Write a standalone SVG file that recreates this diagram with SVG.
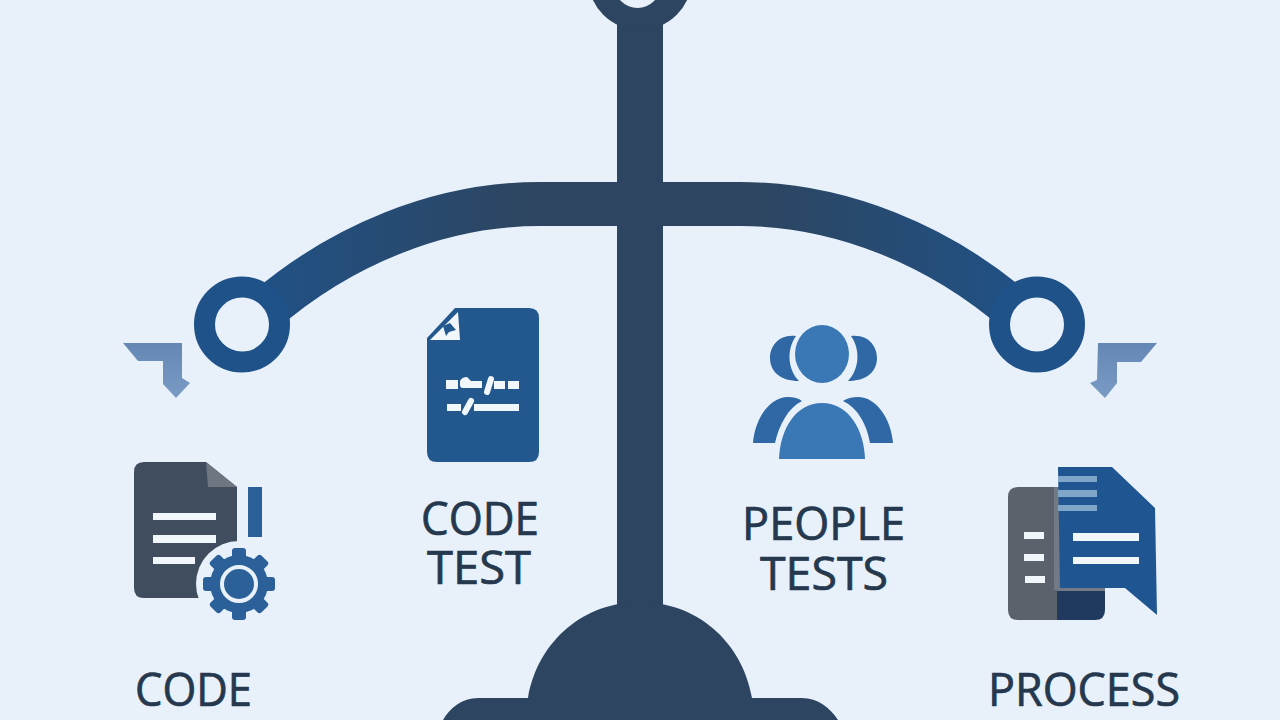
<svg xmlns="http://www.w3.org/2000/svg" width="1280" height="720" viewBox="0 0 1280 720">
<style>
.lbl{font-family:"Open Sans","Liberation Sans",sans-serif;font-size:45px;fill:#25384e;stroke:#25384e;stroke-width:.7;text-anchor:start}
.dark{fill:#2d4560}
.ring{fill:#e8f1fa;stroke:#1f5288;stroke-width:21}
.arrow{fill:url(#arrowGrad)}
.wl{fill:#f1f6fb}
.ll{fill:#7fa5c9}
.handle{fill:none;stroke:#f1f6fb;stroke-width:6;stroke-linecap:round}
</style>
<defs>
<linearGradient id="beamGrad" gradientUnits="userSpaceOnUse" x1="240" y1="0" x2="1040" y2="0">
<stop offset="0" stop-color="#1f5288"/><stop offset="0.36" stop-color="#2d4560"/><stop offset="0.64" stop-color="#2d4560"/><stop offset="1" stop-color="#1f5288"/>
</linearGradient>
<linearGradient id="arrowGrad" x1="0" y1="0" x2="0" y2="1">
<stop offset="0" stop-color="#6587b4"/><stop offset="1" stop-color="#7a9bc4"/>
</linearGradient>
</defs>
<rect width="1280" height="720" fill="#e8f1fa"/>
<g id="connectors">
<path d="M262 313C340 245 440 204 540 204L740 204C840 204 940 245 1018 313" fill="none" stroke="url(#beamGrad)" stroke-width="44"/>
<rect class="dark" x="617" y="0" width="46" height="620"/>
</g>
<g id="pivot">
<circle class="dark" cx="640" cy="-22" r="52"/>
<circle cx="637.5" cy="-15" r="23" fill="#e8f1fa"/>
</g>
<g id="ring-left"><circle class="ring" cx="242" cy="324.5" r="37.5"/></g>
<g id="ring-right"><circle class="ring" cx="1037" cy="324.5" r="37.5"/></g>
<g id="base"><path class="dark" d="M528 698C538 640 585 602 640 602C695 602 742 640 752 698L802 698C818 698 830 708 838 720L443 720C450 708 462 698 478 698Z"/></g>
<g id="arrow-left"><polygon class="arrow" points="123,343 182,343 182,378 190,383 176,398 163,384 163,361 138,361"/></g>
<g id="arrow-right"><polygon class="arrow" points="1098,343 1157,343 1141,362 1117,362 1117,383 1105,398 1090,383 1097,380"/></g>
<g id="node-code">
<path d="M144 462H206L237 487V588Q237 598 227 598H144Q134 598 134 588V472Q134 462 144 462Z" fill="#3f4d5f"/>
<polygon points="206,462 237,487 208,487" fill="#6e7682"/>
<rect class="wl" x="153" y="513" width="63" height="7"/>
<rect class="wl" x="153" y="535" width="63" height="8"/>
<rect class="wl" x="153" y="557" width="42" height="7"/>
<rect x="248" y="487" width="14" height="50" fill="#2b6198"/>
<circle cx="239" cy="584" r="43" fill="#e8f1fa"/>
<g fill="#2b6198">
<circle cx="239" cy="584" r="29"/>
<rect x="232" y="548" width="14" height="72" rx="3"/><rect x="232" y="548" width="14" height="72" rx="3" transform="rotate(45 239 584)"/><rect x="232" y="548" width="14" height="72" rx="3" transform="rotate(90 239 584)"/><rect x="232" y="548" width="14" height="72" rx="3" transform="rotate(135 239 584)"/>
</g>
<circle cx="239" cy="584" r="17" fill="#2b6198" stroke="#e8f1fa" stroke-width="4"/>
<text class="lbl" x="135" y="706" textLength="117" lengthAdjust="spacingAndGlyphs">CODE</text>
</g>
<g id="node-code-test">
<path d="M455 308H529Q539 308 539 318V452Q539 462 529 462H437Q427 462 427 452V338Z" fill="#23588f"/>
<polygon points="458,312 460,340 430,340" fill="#f1f6fb"/>
<path d="M443 326L450 323L456 330L449 332L446 336Z" fill="#23588f"/>
<rect class="wl" x="446" y="380" width="12" height="9"/>
<path d="M460 381Q462 377 467 377L471 381H482V388H463Q460 388 460 385Z" fill="#f1f6fb"/>
<rect class="wl" x="494" y="381" width="11" height="8"/>
<rect class="wl" x="508" y="381" width="11" height="8"/>
<rect class="wl" x="447" y="404" width="14" height="7"/>
<rect class="wl" x="474" y="404" width="45" height="7"/>
<path class="handle" d="M487 392L491 379"/>
<path class="handle" d="M465 412L471 401"/>
<text class="lbl"><tspan x="421" y="535" textLength="118" lengthAdjust="spacingAndGlyphs">CODE</tspan><tspan x="427" y="584" textLength="104" lengthAdjust="spacingAndGlyphs">TEST</tspan></text>
</g>
<g id="node-people-tests">
<path d="M796 336C778 334 770 347 770 358C770 372 781 381 799 381C788 370 786 350 796 336Z" fill="#2f68a5"/>
<path d="M851 336C869 334 877 347 877 358C877 372 866 381 848 381C859 370 861 350 851 336Z" fill="#2f68a5"/>
<ellipse cx="822" cy="354" rx="27" ry="29" fill="#3a78b5"/>
<path d="M753 443C755 418 770 397 788 397Q797 397 802 401C788 408 779 425 775 443Z" fill="#2f68a5"/>
<path d="M893 443C891 418 876 397 858 397Q849 397 843 401C858 408 867 425 870 443Z" fill="#2f68a5"/>
<path d="M779 459C780 430 795 403 822 403C849 403 864 430 865 459Z" fill="#3a78b5"/>
<text class="lbl"><tspan x="742" y="540" textLength="163" lengthAdjust="spacingAndGlyphs">PEOPLE</tspan><tspan x="760" y="590" textLength="128" lengthAdjust="spacingAndGlyphs">TESTS</tspan></text>
</g>
<g id="node-process">
<path d="M1018 487H1060V620H1018Q1008 620 1008 610V497Q1008 487 1018 487Z" fill="#5b626c"/>
<path d="M1057 590H1105V610Q1105 620 1095 620H1057Z" fill="#1f3a5e"/>
<rect x="1054" y="487" width="6" height="103" fill="#727a85"/>
<rect x="1057" y="588" width="48" height="3" fill="#727a85"/>
<polygon points="1058,467 1112,467 1155,508 1157,615 1125,588 1060,588" fill="#1f5590"/>
<rect class="ll" x="1058" y="476" width="39" height="6"/>
<rect class="ll" x="1058" y="490" width="39" height="7"/>
<rect class="ll" x="1058" y="505" width="39" height="6"/>
<rect class="wl" x="1073" y="533" width="66" height="8"/>
<rect class="wl" x="1073" y="557" width="66" height="7"/>
<rect class="wl" x="1024" y="532" width="20" height="7"/>
<rect class="wl" x="1024" y="554" width="20" height="7"/>
<rect class="wl" x="1025" y="576" width="20" height="7"/>
<text class="lbl" x="988" y="706" textLength="192" lengthAdjust="spacingAndGlyphs">PROCESS</text>
</g>
</svg>
